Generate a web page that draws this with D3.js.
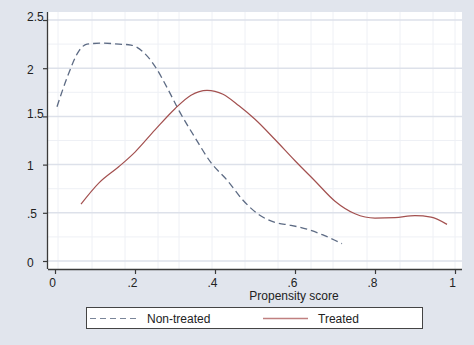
<!DOCTYPE html>
<html><head><meta charset="utf-8">
<script src="https://cdn.jsdelivr.net/npm/d3@7"></script>
<style>body{margin:0;background:#e1e5ed;}svg{display:block;font-family:"Liberation Sans",Arial,sans-serif;}</style>
</head><body>
<script>
const nonTreatedX = [0.005,0.03,0.06,0.08,0.12,0.16,0.19,0.22,0.25,0.28,0.31,0.35,0.39,0.43,0.47,0.51,0.55,0.59,0.63,0.67,0.7175];
const nonTreatedY = [1.6,1.9,2.18,2.25,2.26,2.25,2.24,2.17,2.02,1.80,1.56,1.28,1.02,0.84,0.63,0.48,0.40,0.37,0.33,0.27,0.18];
const treatedX = [0.065,0.11,0.16,0.2,0.25,0.3,0.34,0.38,0.42,0.46,0.5,0.55,0.6,0.65,0.7,0.75,0.8,0.85,0.9,0.94,0.98];
const treatedY = [0.59,0.81,0.98,1.13,1.36,1.58,1.72,1.77,1.73,1.61,1.47,1.26,1.04,0.83,0.62,0.49,0.445,0.45,0.47,0.455,0.38];
const xTicks = [0,0.2,0.4,0.6,0.8,1];
const xTickLabels = ["0",".2",".4",".6",".8","1"];
const yTicks = [0,0.5,1,1.5,2,2.5];
const yTickLabels = ["0",".5","1","1.5","2","2.5"];
const xGrid = [0.0075,0.0925,0.175,0.2575,0.31,0.3925,0.475,0.5575,0.64,0.695,0.78,0.8625,0.945,1.0];
const yMinorGrid = [0.25,0.75,1.25,1.75,2.25];
const seriesNames = ["Non-treated","Treated"];

const W=474,H=345;
const FONT="Liberation Sans, Arial, sans-serif";
const svg=d3.select("body").append("svg").attr("width",W).attr("height",H);
svg.append("rect").attr("width",W).attr("height",H).attr("fill","#e1e5ed");

const x=d3.scaleLinear().domain([0,1]).range([55,455]);
const y=d3.scaleLinear().domain([0,2.5]).range([261,20]);
const plotL=48,plotR=462,plotT=12,plotB=269;

svg.append("rect").attr("x",plotL).attr("y",plotT).attr("width",plotR-plotL).attr("height",plotB-plotT).attr("fill","#ffffff");

// grid
svg.append("g").selectAll("line").data(xGrid).join("line")
  .attr("x1",d=>x(d)).attr("x2",d=>x(d)).attr("y1",plotT).attr("y2",plotB)
  .attr("stroke","#eef0f5").attr("stroke-width",1);
svg.append("g").selectAll("line").data(yMinorGrid).join("line")
  .attr("x1",plotL).attr("x2",plotR).attr("y1",d=>y(d)).attr("y2",d=>y(d))
  .attr("stroke","#eef0f5").attr("stroke-width",1);
svg.append("g").selectAll("line").data(yTicks).join("line")
  .attr("x1",plotL).attr("x2",plotR).attr("y1",d=>y(d)).attr("y2",d=>y(d))
  .attr("stroke","#dde1ea").attr("stroke-width",1.5);

// axes
const xAxis=d3.axisBottom(x).tickValues(xTicks).tickFormat((d,i)=>xTickLabels[i]).tickSize(5).tickSizeOuter(0);
const gx=svg.append("g").attr("transform",`translate(0,${plotB})`).call(xAxis);
gx.select(".domain").attr("d",`M${plotL},0.5H${plotR}`).attr("stroke","#3a3a3a").attr("stroke-width",1.3);
gx.selectAll(".tick line").attr("stroke","#3a3a3a").attr("stroke-width",1.2);
gx.selectAll(".tick text").attr("fill","#222").attr("font-size",12).attr("dx",-3).attr("y",18).attr("dy",0).style("font-family",FONT);

const yAxis=d3.axisLeft(y).tickValues(yTicks).tickFormat((d,i)=>yTickLabels[i]).tickSize(5).tickSizeOuter(0);
const gy=svg.append("g").attr("transform",`translate(${plotL},0)`).call(yAxis);
gy.select(".domain").attr("d",`M-0.5,${plotT}V${plotB}`).attr("stroke","#3a3a3a").attr("stroke-width",1.3);
gy.selectAll(".tick line").attr("stroke","#3a3a3a").attr("stroke-width",1.2);
gy.selectAll(".tick text").attr("fill","#222").attr("font-size",12)
  .attr("text-anchor","start").attr("x",-21)
  .attr("dy",(d)=> (d===2.5||d===1.5)? "0.05em":"0.42em")
  .style("font-family",FONT);

svg.append("text").attr("x",294).attr("y",299.5).attr("text-anchor","middle")
  .attr("font-size",12).attr("fill","#222").style("font-family",FONT).text("Propensity score");

const line=d3.line().x(d=>x(d[0])).y(d=>y(d[1])).curve(d3.curveMonotoneX);
const nt=nonTreatedX.map((v,i)=>[v,nonTreatedY[i]]);
const tr=treatedX.map((v,i)=>[v,treatedY[i]]);
svg.append("path").attr("d",line(nt)).attr("fill","none").attr("stroke","#5d6b84").attr("stroke-width",1.3).attr("stroke-dasharray","7,4");
svg.append("path").attr("d",line(tr)).attr("fill","none").attr("stroke","#a3504f").attr("stroke-width",1.2);

// legend
const lg=svg.append("g");
lg.append("rect").attr("x",86.5).attr("y",307.5).attr("width",336).attr("height",21).attr("fill","#fff").attr("stroke","#444").attr("stroke-width",1);
lg.append("line").attr("x1",90).attr("x2",136).attr("y1",318.5).attr("y2",318.5).attr("stroke","#7a8599").attr("stroke-width",1.2).attr("stroke-dasharray","6,4");
lg.append("text").attr("x",147).attr("y",322.5).attr("font-size",12).attr("fill","#222").style("font-family",FONT).text(seriesNames[0]);
lg.append("line").attr("x1",263).attr("x2",308).attr("y1",318.5).attr("y2",318.5).attr("stroke","#c08080").attr("stroke-width",1.3);
lg.append("text").attr("x",318).attr("y",322.5).attr("font-size",12).attr("fill","#222").style("font-family",FONT).text(seriesNames[1]);
</script>
</body></html>
